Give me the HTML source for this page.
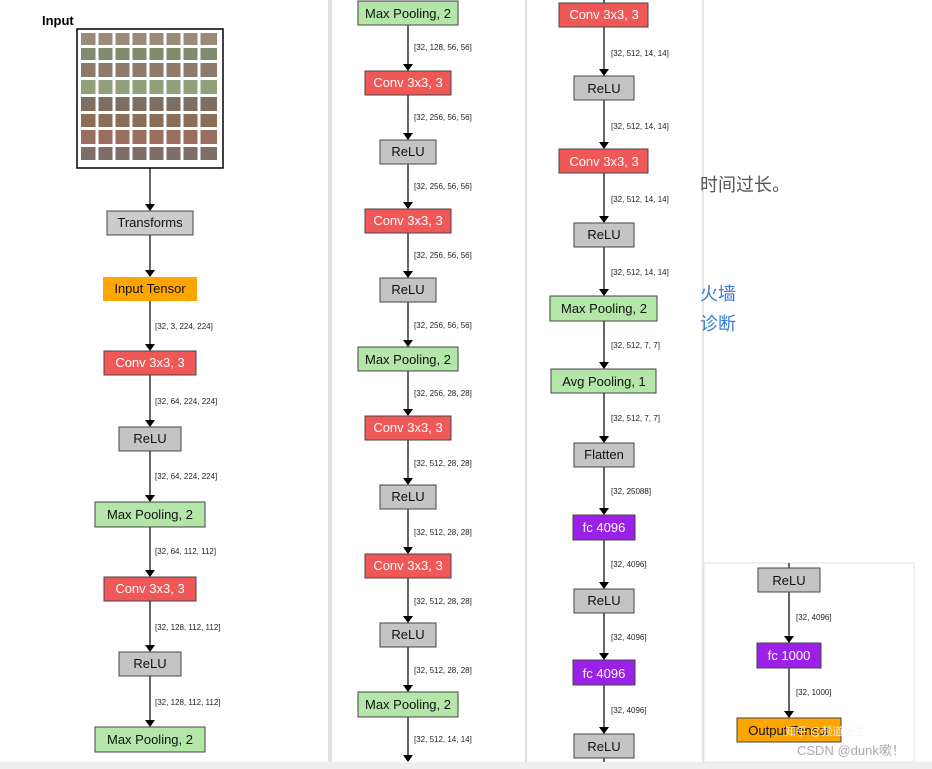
<!DOCTYPE html>
<html><head><meta charset="utf-8"><style>
body{margin:0;background:#f4f4f4;}
svg{display:block;font-family:"Liberation Sans",Arial,sans-serif;}
.n{font-size:13px;text-anchor:middle;fill:#111}
.w{fill:#fff}
.l{font-size:8px;fill:#222}
.ln{stroke:#000;stroke-width:1.2}
</style></head><body>
<svg width="932" height="769" viewBox="0 0 932 769" xmlns="http://www.w3.org/2000/svg">
<rect x="0" y="0" width="932" height="769" fill="#fff"/>
<rect x="0" y="762" width="932" height="7" fill="#eee"/>
<rect x="0" y="0" width="328" height="762" fill="#fff"/>
<rect x="328" y="0" width="4" height="762" fill="#e2e2e2"/>
<rect x="332" y="0" width="193" height="762" fill="#fff"/>
<rect x="525" y="0" width="2" height="762" fill="#ddd"/>
<rect x="527" y="0" width="175" height="762" fill="#fff"/>
<rect x="702" y="0" width="2" height="762" fill="#e6e6e6"/>
<rect x="704" y="563" width="210" height="199" fill="#fff" stroke="#e0e0e0"/>
<text x="700" y="191" font-size="18" fill="#555" font-family="Liberation Sans,Noto Sans CJK SC,sans-serif">时间过长。</text>
<text x="700" y="300" font-size="18" fill="#3a7bd5" font-family="Liberation Sans,Noto Sans CJK SC,sans-serif">火墙</text>
<text x="700" y="330" font-size="18" fill="#3a7bd5" font-family="Liberation Sans,Noto Sans CJK SC,sans-serif">诊断</text>

<text x="42" y="25" font-size="13" font-weight="bold">Input</text>
<rect x="77" y="29" width="146" height="139" fill="#fff" stroke="#000" stroke-width="1.5"/>
<g>
<rect x="81" y="33" width="136" height="12" fill="#9a8b78"/>
<rect x="81" y="48" width="136" height="12" fill="#7f8a6e"/>
<rect x="81" y="63" width="136" height="14" fill="#8c7b6c"/>
<rect x="81" y="80" width="136" height="14" fill="#8fa07a"/>
<rect x="81" y="97" width="136" height="14" fill="#7e6f62"/>
<rect x="81" y="114" width="136" height="13" fill="#8a6e58"/>
<rect x="81" y="130" width="136" height="14" fill="#9a6e5e"/>
<rect x="81" y="147" width="136" height="13" fill="#7e6e66"/>
</g>
<g stroke="#fff" stroke-width="3">
<line x1="97" y1="31" x2="97" y2="165"/><line x1="114" y1="31" x2="114" y2="165"/><line x1="131" y1="31" x2="131" y2="165"/><line x1="148" y1="31" x2="148" y2="165"/><line x1="165" y1="31" x2="165" y2="165"/><line x1="182" y1="31" x2="182" y2="165"/><line x1="199" y1="31" x2="199" y2="165"/>
</g>
<g class="ln">
<line x1="150" y1="168" x2="150" y2="204"/><line x1="150" y1="235" x2="150" y2="270"/>
<line x1="150" y1="301" x2="150" y2="344"/><line x1="150" y1="375" x2="150" y2="420"/>
<line x1="150" y1="451" x2="150" y2="495"/><line x1="150" y1="527" x2="150" y2="570"/>
<line x1="150" y1="601" x2="150" y2="645"/><line x1="150" y1="676" x2="150" y2="720"/>
</g>
<g fill="#000">
<polygon points="145,204 155,204 150,211"/><polygon points="145,270 155,270 150,277"/>
<polygon points="145,344 155,344 150,351"/><polygon points="145,420 155,420 150,427"/>
<polygon points="145,495 155,495 150,502"/><polygon points="145,570 155,570 150,577"/>
<polygon points="145,645 155,645 150,652"/><polygon points="145,720 155,720 150,727"/>
</g>
<rect x="107" y="211" width="86" height="24" fill="#ccc" stroke="#444"/><text class="n" x="150" y="227">Transforms</text>
<rect x="103" y="277" width="94" height="24" fill="#ffa500"/><text class="n" x="150" y="293">Input Tensor</text>
<text class="l" x="155" y="329">[32, 3, 224, 224]</text>
<rect x="104" y="351" width="92" height="24" fill="#f05858" stroke="#444"/><text class="n w" x="150" y="367">Conv 3x3, 3</text>
<text class="l" x="155" y="404">[32, 64, 224, 224]</text>
<rect x="119" y="427" width="62" height="24" fill="#c4c4c4" stroke="#444"/><text class="n" x="150" y="443">ReLU</text>
<text class="l" x="155" y="479">[32, 64, 224, 224]</text>
<rect x="95" y="502" width="110" height="25" fill="#b3e6a8" stroke="#444"/><text class="n" x="150" y="519">Max Pooling, 2</text>
<text class="l" x="155" y="554">[32, 64, 112, 112]</text>
<rect x="104" y="577" width="92" height="24" fill="#f05858" stroke="#444"/><text class="n w" x="150" y="593">Conv 3x3, 3</text>
<text class="l" x="155" y="630">[32, 128, 112, 112]</text>
<rect x="119" y="652" width="62" height="24" fill="#c4c4c4" stroke="#444"/><text class="n" x="150" y="668">ReLU</text>
<text class="l" x="155" y="705">[32, 128, 112, 112]</text>
<rect x="95" y="727" width="110" height="25" fill="#b3e6a8" stroke="#444"/><text class="n" x="150" y="744">Max Pooling, 2</text>

<g class="ln">
<line x1="408" y1="25" x2="408" y2="64"/><line x1="408" y1="95" x2="408" y2="133"/>
<line x1="408" y1="164" x2="408" y2="202"/><line x1="408" y1="233" x2="408" y2="271"/>
<line x1="408" y1="302" x2="408" y2="340"/><line x1="408" y1="371" x2="408" y2="409"/>
<line x1="408" y1="440" x2="408" y2="478"/><line x1="408" y1="509" x2="408" y2="547"/>
<line x1="408" y1="578" x2="408" y2="616"/><line x1="408" y1="647" x2="408" y2="685"/>
<line x1="408" y1="717" x2="408" y2="755"/>
</g>
<g fill="#000">
<polygon points="403,64 413,64 408,71"/><polygon points="403,133 413,133 408,140"/>
<polygon points="403,202 413,202 408,209"/><polygon points="403,271 413,271 408,278"/>
<polygon points="403,340 413,340 408,347"/><polygon points="403,409 413,409 408,416"/>
<polygon points="403,478 413,478 408,485"/><polygon points="403,547 413,547 408,554"/>
<polygon points="403,616 413,616 408,623"/><polygon points="403,685 413,685 408,692"/>
<polygon points="403,755 413,755 408,762"/>
</g>
<rect x="358" y="1" width="100" height="24" fill="#b3e6a8" stroke="#444"/><text class="n" x="408" y="18">Max Pooling, 2</text>
<text class="l" x="414" y="50">[32, 128, 56, 56]</text>
<rect x="365" y="71" width="86" height="24" fill="#f05858" stroke="#444"/><text class="n w" x="408" y="87">Conv 3x3, 3</text>
<text class="l" x="414" y="120">[32, 256, 56, 56]</text>
<rect x="380" y="140" width="56" height="24" fill="#c4c4c4" stroke="#444"/><text class="n" x="408" y="156">ReLU</text>
<text class="l" x="414" y="189">[32, 256, 56, 56]</text>
<rect x="365" y="209" width="86" height="24" fill="#f05858" stroke="#444"/><text class="n w" x="408" y="225">Conv 3x3, 3</text>
<text class="l" x="414" y="258">[32, 256, 56, 56]</text>
<rect x="380" y="278" width="56" height="24" fill="#c4c4c4" stroke="#444"/><text class="n" x="408" y="294">ReLU</text>
<text class="l" x="414" y="328">[32, 256, 56, 56]</text>
<rect x="358" y="347" width="100" height="24" fill="#b3e6a8" stroke="#444"/><text class="n" x="408" y="364">Max Pooling, 2</text>
<text class="l" x="414" y="396">[32, 256, 28, 28]</text>
<rect x="365" y="416" width="86" height="24" fill="#f05858" stroke="#444"/><text class="n w" x="408" y="432">Conv 3x3, 3</text>
<text class="l" x="414" y="466">[32, 512, 28, 28]</text>
<rect x="380" y="485" width="56" height="24" fill="#c4c4c4" stroke="#444"/><text class="n" x="408" y="501">ReLU</text>
<text class="l" x="414" y="535">[32, 512, 28, 28]</text>
<rect x="365" y="554" width="86" height="24" fill="#f05858" stroke="#444"/><text class="n w" x="408" y="570">Conv 3x3, 3</text>
<text class="l" x="414" y="604">[32, 512, 28, 28]</text>
<rect x="380" y="623" width="56" height="24" fill="#c4c4c4" stroke="#444"/><text class="n" x="408" y="639">ReLU</text>
<text class="l" x="414" y="673">[32, 512, 28, 28]</text>
<rect x="358" y="692" width="100" height="25" fill="#b3e6a8" stroke="#444"/><text class="n" x="408" y="709">Max Pooling, 2</text>
<text class="l" x="414" y="742">[32, 512, 14, 14]</text>

<g class="ln">
<line x1="604" y1="0" x2="604" y2="3"/>
<line x1="604" y1="27" x2="604" y2="69"/><line x1="604" y1="100" x2="604" y2="142"/>
<line x1="604" y1="173" x2="604" y2="216"/><line x1="604" y1="247" x2="604" y2="289"/>
<line x1="604" y1="321" x2="604" y2="362"/><line x1="604" y1="393" x2="604" y2="436"/>
<line x1="604" y1="467" x2="604" y2="508"/><line x1="604" y1="540" x2="604" y2="582"/>
<line x1="604" y1="613" x2="604" y2="653"/><line x1="604" y1="685" x2="604" y2="727"/>
<line x1="604" y1="758" x2="604" y2="762"/>
</g>
<g fill="#000">
<polygon points="599,69 609,69 604,76"/><polygon points="599,142 609,142 604,149"/>
<polygon points="599,216 609,216 604,223"/><polygon points="599,289 609,289 604,296"/>
<polygon points="599,362 609,362 604,369"/><polygon points="599,436 609,436 604,443"/>
<polygon points="599,508 609,508 604,515"/><polygon points="599,582 609,582 604,589"/>
<polygon points="599,653 609,653 604,660"/><polygon points="599,727 609,727 604,734"/>
</g>
<rect x="559" y="3" width="89" height="24" fill="#f05858" stroke="#444"/><text class="n w" x="604" y="19">Conv 3x3, 3</text>
<text class="l" x="611" y="56">[32, 512, 14, 14]</text>
<rect x="574" y="76" width="60" height="24" fill="#c4c4c4" stroke="#444"/><text class="n" x="604" y="93">ReLU</text>
<text class="l" x="611" y="129">[32, 512, 14, 14]</text>
<rect x="559" y="149" width="89" height="24" fill="#f05858" stroke="#444"/><text class="n w" x="604" y="166">Conv 3x3, 3</text>
<text class="l" x="611" y="202">[32, 512, 14, 14]</text>
<rect x="574" y="223" width="60" height="24" fill="#c4c4c4" stroke="#444"/><text class="n" x="604" y="239">ReLU</text>
<text class="l" x="611" y="275">[32, 512, 14, 14]</text>
<rect x="550" y="296" width="107" height="25" fill="#b3e6a8" stroke="#444"/><text class="n" x="604" y="313">Max Pooling, 2</text>
<text class="l" x="611" y="348">[32, 512, 7, 7]</text>
<rect x="551" y="369" width="105" height="24" fill="#b3e6a8" stroke="#444"/><text class="n" x="604" y="386">Avg Pooling, 1</text>
<text class="l" x="611" y="421">[32, 512, 7, 7]</text>
<rect x="574" y="443" width="60" height="24" fill="#c4c4c4" stroke="#444"/><text class="n" x="604" y="459">Flatten</text>
<text class="l" x="611" y="494">[32, 25088]</text>
<rect x="573" y="515" width="62" height="25" fill="#9b20e8" stroke="#444"/><text class="n w" x="604" y="532">fc 4096</text>
<text class="l" x="611" y="567">[32, 4096]</text>
<rect x="574" y="589" width="60" height="24" fill="#c4c4c4" stroke="#444"/><text class="n" x="604" y="605">ReLU</text>
<text class="l" x="611" y="640">[32, 4096]</text>
<rect x="573" y="660" width="62" height="25" fill="#9b20e8" stroke="#444"/><text class="n w" x="604" y="678">fc 4096</text>
<text class="l" x="611" y="713">[32, 4096]</text>
<rect x="574" y="734" width="60" height="24" fill="#c4c4c4" stroke="#444"/><text class="n" x="604" y="751">ReLU</text>

<g class="ln">
<line x1="789" y1="563" x2="789" y2="568"/>
<line x1="789" y1="592" x2="789" y2="636"/><line x1="789" y1="668" x2="789" y2="711"/>
</g>
<g fill="#000">
<polygon points="784,636 794,636 789,643"/><polygon points="784,711 794,711 789,718"/>
</g>
<rect x="758" y="568" width="62" height="24" fill="#c4c4c4" stroke="#444"/><text class="n" x="789" y="585">ReLU</text>
<text class="l" x="796" y="620">[32, 4096]</text>
<rect x="757" y="643" width="64" height="25" fill="#9b20e8" stroke="#444"/><text class="n w" x="789" y="660">fc 1000</text>
<text class="l" x="796" y="695">[32, 1000]</text>
<rect x="737" y="718" width="104" height="24" fill="#ffa500" stroke="#444"/><text class="n" x="789" y="735" style="text-anchor:middle">Output Tensor</text>
<text x="785" y="735" font-size="11" fill="#f4f4f4" fill-opacity="0.85" font-family="Liberation Sans,Noto Sans CJK SC,sans-serif">知乎 @频道长生</text>
<text x="797" y="755" font-size="13" fill="#aaa" font-family="Liberation Sans,Noto Sans CJK SC,sans-serif">CSDN @dunk嗽！</text>
</svg>
</body></html>
